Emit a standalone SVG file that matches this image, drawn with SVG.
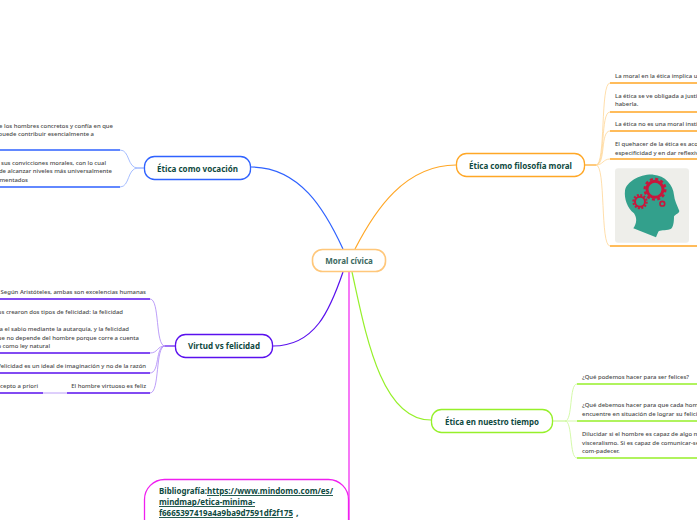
<svg xmlns="http://www.w3.org/2000/svg" width="697" height="520" viewBox="0 0 697 520">
<style>
text{font-family:"Noto Sans","Open Sans",sans-serif}
.leaf{font-size:5.95px;fill:#4a4a4a;font-weight:500}
.title{font-size:9px;font-weight:700;fill:#0f4a3f;text-anchor:middle}
.bib{font-size:9px;font-weight:700;fill:#0f4a3f}
.box{fill:#fff;stroke-width:1.3}
.main{fill:none;stroke-width:1.2}
.thin{fill:none;stroke-width:.8}
.under{fill:none;stroke-width:1.7}
.blue{stroke:#2f62ff}.lblue{stroke:#90adff}
.purple{stroke:#5a10ee}.lpurple{stroke:#ab85f6}
.orange{stroke:#ffa726}.lorange{stroke:#ffd596}
.green{stroke:#96f02a}.lgreen{stroke:#c9f794}
.magenta{stroke:#f01ff0}
</style>
<g id="connectors">
<path class="main blue" d="M343 249C325 210 300 167 251 167"/>
<path class="main orange" d="M355 249C375 210 405 165 456 165"/>
<path class="main purple" d="M343 272C330 310 315 346 273 346"/>
<path class="main green" d="M352 272C365 330 380 420 431 420"/>
<path class="main magenta" d="M349 272V520"/>
<path class="thin lblue" d="M144 168H138C127 168 130 150 120 150"/>
<path class="thin lblue" d="M144 168H138C127 168 130 187 120 187"/>
<path class="under blue" d="M0 150H120M0 187H120"/>
<path class="main purple" d="M175 346H165"/>
<path class="thin lpurple" d="M165 346C155 346 160 299 150 299"/>
<path class="thin lpurple" d="M165 346C157 346 158 353 150 353"/>
<path class="thin lpurple" d="M165 346C155 346 160 373 150 373"/>
<path class="thin lpurple" d="M165 346C155 346 160 393 150 393"/>
<path class="thin lpurple" d="M43 393H67"/>
<path class="under purple" d="M0 299H150M0 353H150M0 373H150M67 393H150M0 393H43"/>
<path class="main orange" d="M585 165H596"/>
<path class="thin lorange" d="M596 165C606 165 600 83 610 83"/>
<path class="thin lorange" d="M596 165C606 165 600 112 610 112"/>
<path class="thin lorange" d="M596 165C606 165 600 131 610 131"/>
<path class="thin lorange" d="M596 165C603 165 603 159 610 159"/>
<path class="thin lorange" d="M596 165C606 165 600 246 610 246"/>
<path class="under orange" d="M610 83H697M610 112H697M610 131H697M610 159H697M610 246H697"/>
<path class="main lgreen" d="M553 421H565"/>
<path class="thin lgreen" d="M565 421C573 421 569 384 577 384"/>
<path class="thin lgreen" d="M565 421H577"/>
<path class="thin lgreen" d="M565 421C573 421 569 458 577 458"/>
<path class="under green" d="M577 384H697M577 421H697M577 458H697"/>
</g>
<g id="node-central">
<rect class="box" x="312.500" y="249.500" width="73" height="22" rx="10" style="stroke:#ffc77a;stroke-width:1.6"/>
<text class="title" x="349" y="263.500" style="font-size:8px;fill:#3c6a61">Moral cívica</text>
</g>
<g id="node-vocacion">
<rect class="box blue" x="144.500" y="156.500" width="106" height="23" rx="10"/>
<text class="title" x="197.500" y="171.500" textLength="81" lengthAdjust="spacingAndGlyphs">Ética como vocación</text>
<text class="leaf" x="113" y="128" text-anchor="end">e los hombres concretos y confía en que</text>
<text class="leaf" x="94" y="136" text-anchor="end">puede contribuir esencialmente a</text>
<text class="leaf" x="106" y="165" text-anchor="end">sus convicciones morales, con lo cual</text>
<text class="leaf" x="112" y="173" text-anchor="end">de alcanzar niveles más universalmente</text>
<text class="leaf" x="28" y="182" text-anchor="end">mentados</text>
</g>
<g id="node-virtud">
<rect class="box purple" x="175.500" y="334.500" width="97" height="23" rx="10"/>
<text class="title" x="224" y="349" textLength="72" lengthAdjust="spacingAndGlyphs">Virtud vs felicidad</text>
<text class="leaf" x="146" y="294" text-anchor="end">Según Aristóteles, ambas son excelencias humanas</text>
<text class="leaf" x="123" y="314" text-anchor="end">os crearon dos tipos de felicidad: la felicidad</text>
<text class="leaf" x="129" y="331" text-anchor="end">ra el sabio mediante la autarquía, y la felicidad</text>
<text class="leaf" x="139" y="340" text-anchor="end">ue no depende del hombre porque corre a cuenta</text>
<text class="leaf" x="50" y="348" text-anchor="end">o como ley natural</text>
<text class="leaf" x="146" y="368" text-anchor="end">felicidad es un ideal de imaginación y no de la razón</text>
<text class="leaf" x="38" y="388" text-anchor="end">cepto a priori</text>
<text class="leaf" x="146" y="388" text-anchor="end">El hombre virtuoso es feliz</text>
</g>
<g id="node-filosofia">
<rect class="box orange" x="456.500" y="153.500" width="128" height="23" rx="10"/>
<text class="title" x="520.500" y="168.500" textLength="103" lengthAdjust="spacingAndGlyphs">Ética como filosofía moral</text>
<text class="leaf" x="615" y="78">La moral en la ética implica u</text>
<text class="leaf" x="615" y="98">La ética se ve obligada a justi</text>
<text class="leaf" x="615" y="106">haberla.</text>
<text class="leaf" x="615" y="126">La ética no es una moral instit</text>
<text class="leaf" x="615" y="146">El quehacer de la ética es aco</text>
<text class="leaf" x="615" y="155">especificidad y en dar reflexiv</text>
</g>
<g id="image-head" transform="translate(590 160) scale(.3333)">
<rect x="75" y="25" width="222" height="223" rx="9" fill="#eeeeea"/>
<path fill="#33a08c" d="M190 44C225 46 250 75 252 105C253 120 262 138 268 153C268 160 252 165 252 170C252 185 250 205 240 208C225 212 210 210 205 215L198 232L130 205C140 190 142 175 132 160C112 145 102 115 105 92C110 65 150 42 190 44Z"/>
<g fill="none" stroke="#c8173c">
<circle cx="195" cy="88" r="24" stroke-width="9"/>
<circle cx="195" cy="88" r="31" stroke-width="7" stroke-dasharray="9 7.200"/>
<circle cx="150" cy="125" r="15" stroke-width="6"/>
<circle cx="150" cy="125" r="20" stroke-width="6" stroke-dasharray="6 4.500"/>
<circle cx="217" cy="131" r="7" stroke-width="5"/>
</g>
</g>
<g id="node-tiempo">
<rect class="box green" x="431.500" y="409.500" width="121" height="23" rx="10"/>
<text class="title" x="492" y="424.500" textLength="94" lengthAdjust="spacingAndGlyphs">Ética en nuestro tiempo</text>
<text class="leaf" x="582" y="379">¿Qué podemos hacer para ser felices?</text>
<text class="leaf" x="582" y="407">¿Qué debemos hacer para que cada hom</text>
<text class="leaf" x="582" y="416">encuentre en situación de lograr su felici</text>
<text class="leaf" x="582" y="436">Dilucidar si el hombre es capaz de algo m</text>
<text class="leaf" x="582" y="445">visceralismo. Si es capaz de comunicar-se</text>
<text class="leaf" x="582" y="453">com-padecer.</text>
</g>
<g id="node-bibliografia">
<rect class="box magenta" x="144.500" y="479.500" width="204" height="70" rx="20"/>
<text class="bib" x="159" y="494" textLength="48" lengthAdjust="spacingAndGlyphs">Bibliografía:</text>
<text class="bib" x="207" y="494" textLength="126" lengthAdjust="spacingAndGlyphs" text-decoration="underline">https://www.mindomo.com/es/</text>
<text class="bib" x="159" y="505" textLength="96" lengthAdjust="spacingAndGlyphs" text-decoration="underline">mindmap/etica-minima-</text>
<text class="bib" x="159" y="516" textLength="134" lengthAdjust="spacingAndGlyphs" text-decoration="underline">f6665397419a4a9ba9d7591df2f175</text>
<text class="bib" x="296" y="516">,</text>
</g>
</svg>
